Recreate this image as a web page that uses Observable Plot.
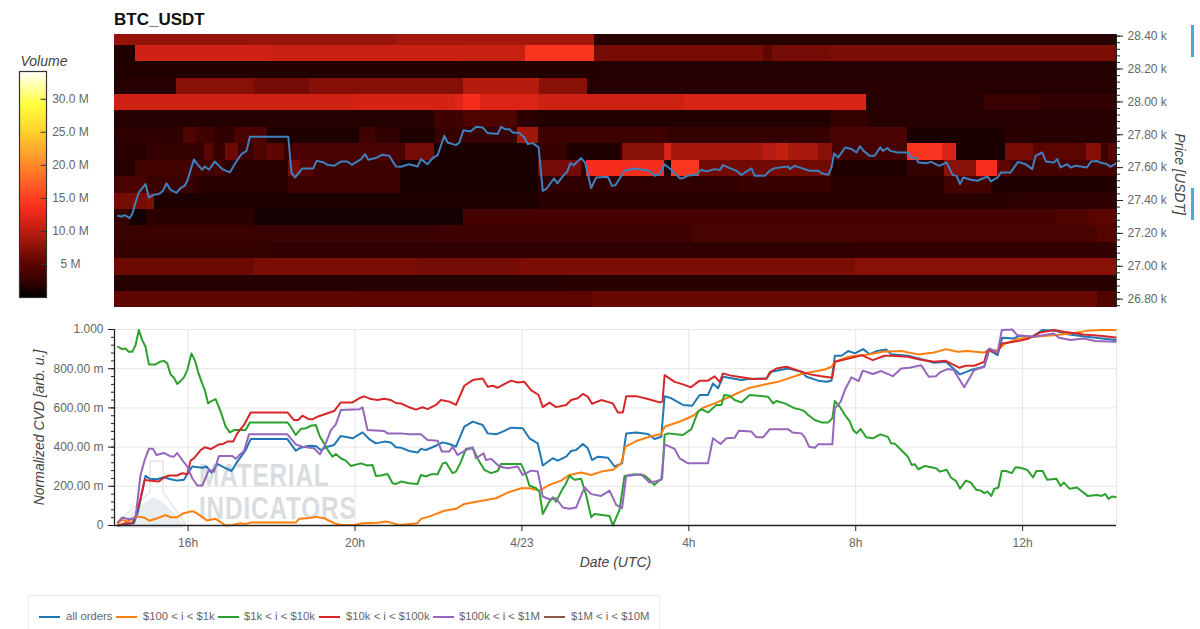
<!DOCTYPE html>
<html><head><meta charset="utf-8">
<script src="https://cdn.jsdelivr.net/npm/d3@7"></script>
<script src="https://cdn.jsdelivr.net/npm/@observablehq/plot@0.6"></script>
<style>
html,body{margin:0;padding:0;background:#fff;width:1200px;height:629px;overflow:hidden;font-family:"Liberation Sans",Arial,sans-serif}
#page{position:relative;width:1200px;height:629px;overflow:hidden}
#page>*{position:absolute}
#title{left:114px;top:10px;font-size:17px;font-weight:bold;color:#111}
#wm{left:199px;top:459px;font-size:32px;line-height:33px;font-weight:bold;color:#d9dde0;letter-spacing:1.1px;white-space:nowrap;transform:scaleX(.76);transform-origin:left top}
#legend{left:28px;top:595px;width:632px;height:40px;border:1px solid #eee;box-sizing:border-box;font-size:11.3px;color:#666}
#legend span{position:absolute;top:14px;white-space:nowrap}
#legend i{position:absolute;top:20px;height:2px;width:21px}
.bar{width:2.5px;background:#4aa8dc;left:1191px}
</style></head><body>
<div id="page">
<svg id="flask" style="left:0;top:0" width="1200" height="629"><path d="M150 461L163 461L163 492L185 523L182 527L120 527L117 523L150 492Z" fill="none" stroke="#e3e6e8" stroke-width="1.5"/><path d="M135 509L153 497L164 503L184 524L181 526L121 526Z" fill="#e8edf0"/></svg>
<div id="wm">MATERIAL<br>INDICATORS</div>
<div id="title">BTC_USDT</div>
<div id="legend"></div>
<div class="bar" style="top:25px;height:32px"></div>
<div class="bar" style="top:188px;height:32px"></div>
</div>
<script>
// ---------- time axis (hours since 4/22 00:00 UTC) ----------
const tStart = 14.236, tEnd = 38.25;
const timeTicks = [16, 20, 24, 28, 32, 36];
const timeLabels = ["16h", "20h", "4/23", "4h", "8h", "12h"];

// ---------- order book heatmap: [start hour, volume in M] per price row ----------
const row28400 = [[14.24,7.8],[17.5,8],[21,8.6],[25.73,1.7]];
const row28300 = [[14.24,1.3],[14.74,11],[18,10.6],[22.6,10.4],[24.08,14],[25.73,6.4],[29.8,5.2],[30,6.2],[31.4,6.6]];
const row28200 = [[14.24,1.4],[26,1.5]];
const row28100 = [[14.24,1.6],[15.72,7.2],[17.6,6.2],[18.9,7],[22.6,9.5],[24.42,7.2],[25.58,1.6]];
const row28000 = [[14.24,11],[20,11.2],[22.4,11.8],[22.6,13.2],[23,11.6],[24.4,10.8],[27.9,11.4],[32.26,1.6],[35.08,2.6],[36.43,2]];
const row27900 = [[14.24,1.5],[21.9,3],[22.6,4],[23.9,1.8],[24.4,1.4],[31.4,2.3],[32.3,1.6]];
const row27800 = [[14.24,1.9],[15.9,4.2],[16.2,3],[16.6,2.1],[17.1,3.8],[17.9,1.2],[20.1,3],[20.5,2.1],[21.1,1.2],[21.9,2.4],[23.9,8.4],[24.4,2.8],[27.5,2.3],[31.4,3.8],[33.25,1.1],[35.6,1.7]];
const row27700 = [[14.24,1.7],[15,2.3],[16.4,4.8],[16.6,2.5],[16.9,5.8],[17.2,2.8],[17.6,4.2],[17.9,5.2],[18.3,2.5],[18.5,3.8],[21.2,6.2],[21.9,1.1],[24.4,2.5],[25.1,1.3],[26.4,7.2],[27.42,11.4],[27.58,8.8],[29.8,9.6],[30.1,10.2],[30.4,9],[31.1,7.2],[31.44,3.4],[33.25,14],[34.08,11.4],[34.42,1.1],[35.6,6.4],[36.27,5],[37.54,7],[37.9,3],[38.06,5]];
const row27600 = [[14.24,1.6],[14.74,3.2],[16.9,1.8],[18.4,6.2],[18.7,4.4],[19,2.8],[21.1,1.1],[24.4,6.2],[25.42,1.8],[25.55,13.2],[27.42,1.3],[27.58,14.2],[28.26,6],[31.42,1.3],[33.25,2.3],[34.12,7.2],[34.9,13.4],[35.41,5],[35.71,3],[36.27,3.3]];
const row27500 = [[14.24,3.8],[15,2.6],[16.2,1.8],[18.4,2.8],[21.1,1],[24.4,2],[29.2,2.4],[31.4,1.8],[34.12,3.2],[35.25,1.3]];
const row27400 = [[14.24,6.4],[15,6.8],[15.2,1.2],[24.4,1.7],[35.7,1.9]];
const row27300 = [[14.24,2.4],[14.6,0.8],[15,1.8],[17.6,0.8],[22.6,3.4],[36.8,4.2],[37.6,5]];
const row27200 = [[14.24,2.6],[22,2.8],[28.1,3.6],[32.7,3.5],[37.8,4.6]];
const row27100 = [[14.24,2.3],[18,2],[32,2.2]];
const row27000 = [[14.24,5.8],[17.58,6.6],[21.5,6.2],[24,6.6],[32,7.2]];
const row26900 = [[14.24,1.5],[25,1.7]];
const row26800 = [[14.24,5.2],[20,5],[25.7,5.6],[37.8,4.2]];
const priceRows = [28400,28300,28200,28100,28000,27900,27800,27700,27600,27500,27400,27300,27200,27100,27000,26900,26800];
const rowValues = [row28400,row28300,row28200,row28100,row28000,row27900,row27800,row27700,row27600,row27500,row27400,row27300,row27200,row27100,row27000,row26900,row26800];
const priceTicks = [26800,27000,27200,27400,27600,27800,28000,28200,28400];

// ---------- price line: [hour, USDT] ----------
const priceLine = [[14.32,27307],[14.4,27303],[14.48,27311],[14.6,27293],[14.66,27317],[14.74,27388],[14.82,27449],[14.98,27500],[15.06,27418],[15.18,27435],[15.3,27439],[15.4,27459],[15.48,27504],[15.58,27465],[15.72,27447],[15.82,27476],[15.92,27490],[15.98,27520],[16.14,27650],[16.22,27621],[16.34,27587],[16.4,27607],[16.5,27587],[16.64,27637],[16.82,27591],[17,27571],[17.14,27631],[17.28,27682],[17.4,27702],[17.48,27788],[18.4,27788],[18.48,27566],[18.56,27540],[18.74,27595],[19,27595],[19.08,27642],[19.26,27631],[19.34,27617],[19.5,27611],[19.66,27637],[19.82,27637],[19.92,27617],[20.14,27650],[20.24,27682],[20.32,27648],[20.5,27658],[20.64,27678],[20.82,27672],[20.98,27607],[21.1,27605],[21.3,27621],[21.5,27607],[21.58,27652],[21.74,27621],[21.86,27658],[21.98,27676],[22.14,27794],[22.22,27753],[22.42,27737],[22.5,27753],[22.6,27828],[22.77,27820],[22.9,27848],[23.06,27844],[23.18,27810],[23.42,27804],[23.5,27848],[23.6,27834],[23.7,27834],[23.78,27814],[23.94,27810],[24.06,27783],[24.14,27743],[24.26,27749],[24.4,27723],[24.5,27459],[24.58,27469],[24.77,27534],[24.85,27504],[25.02,27560],[25.08,27571],[25.16,27627],[25.24,27615],[25.42,27658],[25.52,27627],[25.66,27475],[25.78,27540],[26.06,27544],[26.16,27489],[26.24,27493],[26.46,27581],[26.7,27595],[27.06,27581],[27.18,27550],[27.3,27560],[27.42,27621],[27.58,27587],[27.78,27536],[27.86,27536],[27.98,27552],[28.18,27556],[28.3,27587],[28.42,27577],[28.62,27591],[28.74,27585],[28.82,27615],[28.98,27597],[29.14,27581],[29.26,27556],[29.5,27595],[29.58,27550],[29.82,27550],[29.94,27581],[30.06,27597],[30.38,27607],[30.42,27591],[30.53,27611],[30.7,27597],[30.9,27581],[31.1,27581],[31.18,27566],[31.34,27556],[31.42,27601],[31.48,27686],[31.58,27662],[31.75,27723],[31.9,27713],[32.02,27692],[32.1,27731],[32.19,27702],[32.33,27672],[32.45,27672],[32.59,27723],[32.65,27702],[32.76,27719],[32.83,27702],[33.01,27692],[33.25,27692],[33.33,27662],[33.45,27658],[33.5,27631],[33.69,27627],[33.81,27635],[34,27611],[34.18,27631],[34.32,27556],[34.42,27550],[34.5,27500],[34.58,27540],[34.76,27526],[34.92,27520],[35.16,27546],[35.24,27516],[35.4,27540],[35.48,27571],[35.71,27571],[35.89,27635],[36.07,27621],[36.23,27591],[36.31,27672],[36.47,27692],[36.56,27637],[36.75,27631],[36.83,27652],[36.91,27601],[37.07,27621],[37.15,27601],[37.27,27611],[37.54,27601],[37.64,27637],[37.78,27641],[37.86,27631],[38.02,27621],[38.1,27605],[38.23,27625]];

// ---------- normalized CVD: [hour, milli-units] ----------
const allOrders = [[14.32,0],[14.54,7],[14.7,12],[14.8,71],[14.9,173],[14.98,253],[15.08,238],[15.26,236],[15.42,246],[15.58,236],[15.74,229],[15.9,233],[16.02,275],[16.1,301],[16.34,295],[16.44,301],[16.56,270],[16.7,314],[16.86,297],[17.04,278],[17.18,326],[17.38,385],[17.5,441],[18.38,441],[18.58,382],[18.7,397],[18.9,407],[19.06,406],[19.18,385],[19.34,402],[19.5,411],[19.66,457],[19.94,445],[20.18,475],[20.34,441],[20.5,419],[20.7,428],[20.86,423],[20.98,399],[21.1,397],[21.3,380],[21.5,372],[21.58,391],[21.7,385],[21.94,407],[22.1,424],[22.26,416],[22.42,402],[22.62,504],[22.82,530],[23.06,513],[23.18,470],[23.38,465],[23.54,479],[23.74,499],[24.02,496],[24.18,445],[24.38,419],[24.5,306],[24.74,343],[24.86,331],[25.06,351],[25.18,380],[25.3,385],[25.46,416],[25.58,394],[25.68,334],[25.82,351],[26.06,346],[26.22,301],[26.4,317],[26.5,470],[26.74,475],[27.02,467],[27.18,441],[27.34,453],[27.42,660],[27.58,649],[27.86,615],[28.08,611],[28.26,666],[28.46,666],[28.58,725],[28.7,700],[28.82,759],[29.26,742],[29.42,747],[29.86,750],[29.98,784],[30.38,801],[30.7,784],[30.82,759],[31.1,739],[31.3,733],[31.42,739],[31.5,866],[31.66,866],[31.82,890],[31.98,878],[32.18,900],[32.34,874],[32.5,890],[32.73,898],[32.85,874],[33.25,866],[33.65,844],[33.88,830],[34.16,835],[34.5,771],[34.76,793],[35.08,810],[35.2,895],[35.4,869],[35.51,958],[35.79,954],[35.91,968],[36.23,963],[36.47,997],[36.79,993],[37.07,976],[37.54,963],[38.23,946]];
const from100 = [[14.32,12],[14.42,29],[14.54,20],[14.66,34],[14.78,46],[14.94,41],[15.08,24],[15.26,37],[15.46,53],[15.58,42],[15.74,42],[15.9,63],[16.06,71],[16.14,71],[16.3,49],[16.46,25],[16.66,34],[16.78,17],[16.9,0],[17.06,3],[17.26,12],[17.38,7],[17.5,15],[18.58,15],[18.66,34],[18.86,37],[19.06,44],[19.26,37],[19.5,12],[19.66,3],[19.98,3],[20.18,12],[20.54,14],[20.74,20],[20.9,12],[21.06,3],[21.5,12],[21.58,34],[21.82,49],[22.14,75],[22.42,85],[22.62,110],[22.94,122],[23.38,139],[23.66,168],[23.98,190],[24.18,190],[24.42,178],[24.66,207],[24.94,229],[25.14,258],[25.42,270],[25.66,258],[25.9,275],[26.18,284],[26.38,317],[26.48,402],[26.74,431],[27.06,453],[27.34,467],[27.42,504],[27.82,533],[28.1,560],[28.34,601],[28.62,623],[28.98,657],[29.42,700],[29.74,716],[30.14,733],[30.7,773],[30.98,784],[31.26,796],[31.42,810],[31.5,835],[31.82,861],[32.3,873],[32.65,886],[33.09,890],[33.49,873],[33.88,883],[34.16,900],[34.44,886],[34.68,890],[35.04,883],[35.4,895],[35.55,924],[35.87,951],[36.27,963],[36.75,971],[37.15,980],[37.54,993],[37.86,998],[38.23,998]];
const from1k = [[14.32,912],[14.42,900],[14.5,903],[14.58,886],[14.66,886],[14.74,920],[14.82,997],[14.9,946],[14.98,912],[15.06,822],[15.22,822],[15.32,835],[15.42,840],[15.5,827],[15.58,771],[15.66,754],[15.74,722],[15.82,737],[15.9,756],[15.98,793],[16.08,878],[16.16,844],[16.24,784],[16.32,734],[16.4,691],[16.48,623],[16.56,635],[16.66,645],[16.78,581],[16.9,504],[17,475],[17.1,487],[17.22,487],[17.38,487],[17.48,526],[17.58,526],[18.38,526],[18.46,504],[18.58,462],[18.7,492],[18.82,496],[18.94,509],[19.06,513],[19.16,453],[19.26,419],[19.38,374],[19.46,351],[19.54,365],[19.66,343],[19.78,331],[19.9,304],[20.14,317],[20.3,306],[20.42,309],[20.5,253],[20.62,255],[20.78,263],[20.9,216],[20.98,212],[21.1,224],[21.3,216],[21.5,212],[21.58,258],[21.7,250],[21.82,261],[21.98,261],[22.1,317],[22.18,321],[22.34,267],[22.42,275],[22.54,326],[22.66,391],[22.82,394],[22.98,326],[23.1,284],[23.26,267],[23.42,278],[23.5,314],[23.66,314],[23.98,314],[24.1,258],[24.18,204],[24.34,190],[24.42,173],[24.5,59],[24.66,122],[24.74,144],[24.82,122],[24.94,173],[25.06,216],[25.14,253],[25.26,233],[25.42,238],[25.54,156],[25.66,42],[25.74,59],[26.1,49],[26.18,0],[26.34,80],[26.46,253],[26.7,261],[26.94,255],[27.06,233],[27.17,207],[27.26,224],[27.36,241],[27.42,462],[27.5,470],[27.86,462],[28.06,492],[28.22,581],[28.3,593],[28.46,577],[28.66,615],[28.78,615],[28.85,666],[28.98,662],[29.1,640],[29.26,628],[29.46,666],[29.9,657],[30.02,623],[30.1,635],[30.3,623],[30.54,598],[30.7,590],[30.78,581],[30.86,564],[31.02,538],[31.18,526],[31.34,526],[31.44,547],[31.5,635],[31.62,606],[31.74,564],[31.86,530],[31.94,487],[32.02,470],[32.12,492],[32.25,450],[32.41,445],[32.59,465],[32.77,452],[32.85,419],[32.93,419],[33.09,385],[33.25,351],[33.34,309],[33.42,312],[33.5,287],[33.66,304],[33.92,292],[34.02,275],[34.18,284],[34.28,245],[34.4,228],[34.5,188],[34.64,229],[34.76,219],[34.89,182],[35,178],[35.08,165],[35.16,173],[35.25,151],[35.32,187],[35.42,194],[35.5,278],[35.6,278],[35.74,267],[35.83,297],[35.95,295],[36.11,284],[36.25,245],[36.33,278],[36.48,278],[36.59,233],[36.81,238],[36.91,202],[36.99,219],[37.13,187],[37.3,194],[37.56,151],[37.78,156],[37.9,151],[37.98,161],[38.06,136],[38.14,148],[38.23,146]];
const from10k = [[14.32,0],[14.5,12],[14.66,12],[14.74,46],[14.86,139],[14.96,233],[15.06,229],[15.3,224],[15.42,245],[15.54,255],[15.74,255],[15.86,267],[15.98,261],[16.06,331],[16.14,343],[16.3,385],[16.4,399],[16.54,390],[16.74,414],[16.82,414],[16.94,428],[17.08,428],[17.18,470],[17.34,513],[17.5,577],[18.38,577],[18.54,538],[18.64,538],[18.74,560],[18.9,542],[18.98,542],[19.1,555],[19.22,564],[19.5,584],[19.66,628],[19.94,628],[20.1,649],[20.22,659],[20.38,645],[20.54,640],[20.7,647],[20.86,640],[20.98,625],[21.1,623],[21.3,603],[21.46,591],[21.62,603],[21.74,594],[21.94,615],[22.06,640],[22.26,632],[22.42,615],[22.62,713],[22.82,742],[23.06,750],[23.18,708],[23.3,713],[23.42,703],[23.74,739],[23.9,730],[24.06,733],[24.22,691],[24.4,666],[24.5,604],[24.66,627],[24.82,604],[25.06,615],[25.18,640],[25.34,649],[25.46,671],[25.58,657],[25.68,621],[25.9,640],[26.18,623],[26.3,577],[26.42,577],[26.5,660],[26.74,660],[27.02,645],[27.3,628],[27.37,632],[27.42,767],[27.66,733],[27.86,720],[28.05,705],[28.26,739],[28.46,739],[28.62,761],[28.74,733],[28.82,776],[28.98,766],[29.26,756],[29.54,747],[29.86,749],[29.94,781],[30.1,801],[30.34,810],[30.7,785],[30.9,771],[31.18,762],[31.44,754],[31.5,835],[31.78,849],[32.14,869],[32.41,844],[32.69,866],[32.85,866],[33.25,861],[33.53,847],[33.88,835],[34.16,840],[34.48,805],[34.64,815],[34.84,815],[35.08,835],[35.16,895],[35.4,883],[35.51,929],[35.79,937],[36.11,951],[36.43,985],[36.75,997],[36.99,988],[37.46,975],[37.86,968],[38.23,959]];
const from100k = [[14.32,17],[14.42,41],[14.58,32],[14.74,37],[14.86,258],[14.96,335],[15.06,391],[15.16,391],[15.24,360],[15.42,370],[15.58,353],[15.66,351],[15.74,370],[15.86,334],[15.98,301],[16.1,241],[16.22,204],[16.34,204],[16.5,284],[16.62,275],[16.74,355],[17.06,355],[17.14,340],[17.22,357],[17.34,380],[17.46,465],[18.38,465],[18.58,414],[18.74,402],[19.02,394],[19.16,363],[19.3,419],[19.42,487],[19.54,516],[19.66,589],[20.1,593],[20.18,603],[20.3,487],[20.7,482],[20.78,470],[21.1,470],[21.3,465],[21.58,465],[21.74,436],[21.98,433],[22.08,377],[22.26,377],[22.34,402],[22.46,360],[22.66,385],[22.82,399],[22.9,343],[23.08,368],[23.14,334],[23.26,340],[23.46,301],[23.66,292],[23.9,301],[24.02,258],[24.22,280],[24.38,275],[24.5,148],[24.66,134],[24.82,139],[24.98,92],[25.14,85],[25.3,92],[25.5,195],[25.66,160],[25.9,151],[26.1,178],[26.26,105],[26.4,88],[26.5,253],[26.86,261],[27.06,219],[27.18,224],[27.34,233],[27.42,414],[27.66,391],[27.78,343],[27.98,317],[28.46,317],[28.58,445],[28.76,416],[28.9,445],[29.1,448],[29.2,484],[29.5,479],[29.62,450],[29.78,450],[29.94,491],[30.38,491],[30.48,475],[30.7,470],[30.78,450],[30.88,402],[31.02,397],[31.1,414],[31.44,414],[31.5,598],[31.64,632],[31.74,691],[31.9,756],[32.07,737],[32.17,790],[32.41,773],[32.61,788],[32.89,762],[33.09,801],[33.29,805],[33.57,818],[33.75,759],[33.92,762],[34.04,784],[34.2,798],[34.35,793],[34.6,705],[34.84,793],[35.08,810],[35.2,903],[35.4,883],[35.5,997],[35.75,1000],[35.87,971],[36.27,963],[36.75,980],[36.87,958],[37.15,946],[37.46,954],[37.74,941],[38.23,937]];
const from1M = [];
const seriesNames = ["all orders","$100 < i < $1k","$1k < i < $10k","$10k < i < $100k","$100k < i < $1M","$1M < i < $10M"];
const seriesValues = [allOrders,from100,from1k,from10k,from100k,from1M];
const seriesColors = ["#1f77b4","#ff7f0e","#2ca02c","#d62728","#9467bd","#8c564b"];
const cvdTicks = [0,200,400,600,800,1000];

// ---------- colour bar ----------
const volumeTicks = [5,10,15,20,25,30];
const volumeStops = [0,2,5,10,13,15,20,25,29,34.2];
const volumeColors = ["#000000","#300000","#5c0500","#be1e10","#f52a1c","#ff3f22","#ff8a2a","#ffd22c","#ffff3c","#ffffff"];

const font = {fontFamily:"'Liberation Sans',Arial,sans-serif",fontSize:"12px",background:"transparent",overflow:"visible"};
const colorScale = {type:"linear",domain:volumeStops,range:volumeColors};
const time = h => new Date(Date.UTC(2023,3,22) + h*3600000);
const xDomain = [time(tStart),time(tEnd)];
const gray = "#666", black = "#222";
const minor = (a,b,s) => d3.range(a,b+s/2,s);
const rowStep = 100, binShift = 5;

const cells = rowValues.flatMap((segs,i)=>segs.map((s,j)=>({
  price:priceRows[i], t1:time(s[0]===14.24?tStart:s[0]), t2:time(j+1<segs.length?segs[j+1][0]:tEnd), v:s[1]})));

const heat = Plot.plot({
  width:1200,height:320,marginLeft:114,marginRight:84,marginTop:34,marginBottom:13,style:font,
  x:{type:"utc",domain:xDomain,axis:null},
  y:{domain:[26749,28410]},
  color:colorScale,
  marks:[
    Plot.rect(cells,{x1:"t1",x2:"t2",y1:d=>d.price+rowStep/2-binShift,y2:d=>d.price-rowStep/2-binShift,fill:"v",clip:true,shapeRendering:"crispEdges"}),
    Plot.line(priceLine,{x:d=>time(d[0]),y:d=>d[1],stroke:"#3f80bd",strokeWidth:2,strokeLinejoin:"round"}),
    Plot.ruleX([xDomain[1]],{stroke:black}),
    Plot.axisY(minor(26760,28400,40),{anchor:"right",tickSize:3,fill:"none",stroke:black,label:null}),
    Plot.axisY(priceTicks,{anchor:"right",tickSize:6,tickPadding:5,stroke:black,fill:gray,label:null,tickFormat:v=>(v/1000).toFixed(2)+" k"}),
    Plot.text(["Price [USDT]"],{frameAnchor:"right",textAnchor:"middle",dx:63,dy:3,rotate:90,fontStyle:"italic",fontSize:14,fill:"#444"})
  ]
});
heat.style.cssText += ";left:0;top:0;position:absolute";
document.getElementById("page").appendChild(heat);

const cvdTable = seriesValues.flatMap((s,i)=>s.map(d=>({t:time(d[0]),v:d[1],name:seriesNames[i]})));
const cvd = Plot.plot({
  width:1200,height:260,marginLeft:114,marginRight:84,marginTop:9,marginBottom:55,style:font,
  x:{type:"utc",domain:xDomain,axis:null},
  y:{domain:[0,1000],axis:null},
  color:{domain:seriesNames,range:seriesColors},
  marks:[
    Plot.gridY(cvdTicks,{stroke:"#e6e6e6",strokeOpacity:1}),
    Plot.gridX(timeTicks.map(time),{stroke:"#e6e6e6",strokeOpacity:1}),
    Plot.ruleX([xDomain[1]],{stroke:"#e6e6e6"}),
    Plot.line(cvdTable,{x:"t",y:"v",stroke:"name",z:"name",strokeWidth:2,strokeLinejoin:"round"}),
    Plot.ruleY([0],{stroke:black,strokeWidth:1.3}),
    Plot.ruleX([xDomain[0]],{stroke:black,strokeWidth:1.3}),
    Plot.axisY(minor(0,1000,40),{anchor:"left",tickSize:3,fill:"none",stroke:black,label:null}),
    Plot.axisY(cvdTicks,{anchor:"left",tickSize:6,tickPadding:5,stroke:black,fill:gray,label:null,
      tickFormat:v=>v===0?"0":v===1000?"1.000":v.toFixed(2)+" m"}),
    Plot.axisX(timeTicks.map(time),{anchor:"bottom",tickSize:6,tickPadding:7,stroke:black,fill:gray,label:null,
      tickFormat:d=>timeLabels[timeTicks.indexOf((d-time(0))/3600000)]}),
    Plot.text(["Normalized CVD [arb. u.]"],{frameAnchor:"left",textAnchor:"middle",dx:-75,rotate:-90,fontStyle:"italic",fontSize:14,fill:"#444"}),
    Plot.text(["Date (UTC)"],{frameAnchor:"bottom",dy:41,fontStyle:"italic",fontSize:14,fill:"#444"})
  ]
});
cvd.style.cssText += ";left:0;top:320px;position:absolute";
document.getElementById("page").appendChild(cvd);

const barLevels = d3.range(0,34.2,0.2);
const colorbar = Plot.plot({
  width:100,height:250,marginLeft:19,marginRight:54,marginTop:21,marginBottom:3,style:font,
  x:{domain:[0,1],axis:null},
  y:{domain:[0,34.2],axis:null},
  color:colorScale,
  marks:[
    Plot.rect(barLevels,{x1:0,x2:1,y1:d=>d,y2:d=>d+0.2,fill:d=>d,shapeRendering:"crispEdges"}),
    Plot.frame({stroke:"#333",strokeWidth:1.2}),
    Plot.ruleY(volumeTicks,{x1:0.8,x2:1,stroke:"#333"}),
    Plot.text(volumeTicks,{x:1,dx:24,y:d=>d,textAnchor:"middle",fill:gray,text:d=>d===5?"5 M":d.toFixed(1)+" M"}),
    Plot.text(["Volume"],{frameAnchor:"top-left",dx:1,dy:-15,fontStyle:"italic",fontSize:14,fill:"#444",textAnchor:"start"})
  ]
});
colorbar.style.cssText += ";left:0;top:50px;position:absolute";
document.getElementById("page").appendChild(colorbar);

// ---------- legend ----------
const legend = document.getElementById("legend");
const swatchLeft = [10,87,189,290,404,515], labelLeft = [37,114,215,317,430,542];
seriesNames.forEach((n,i)=>{
  const sw=document.createElement("i"); sw.style.left=swatchLeft[i]+"px"; sw.style.background=seriesColors[i]; legend.appendChild(sw);
  const sp=document.createElement("span"); sp.style.left=labelLeft[i]+"px"; sp.textContent=n; legend.appendChild(sp);
});
</script>
</body></html>
